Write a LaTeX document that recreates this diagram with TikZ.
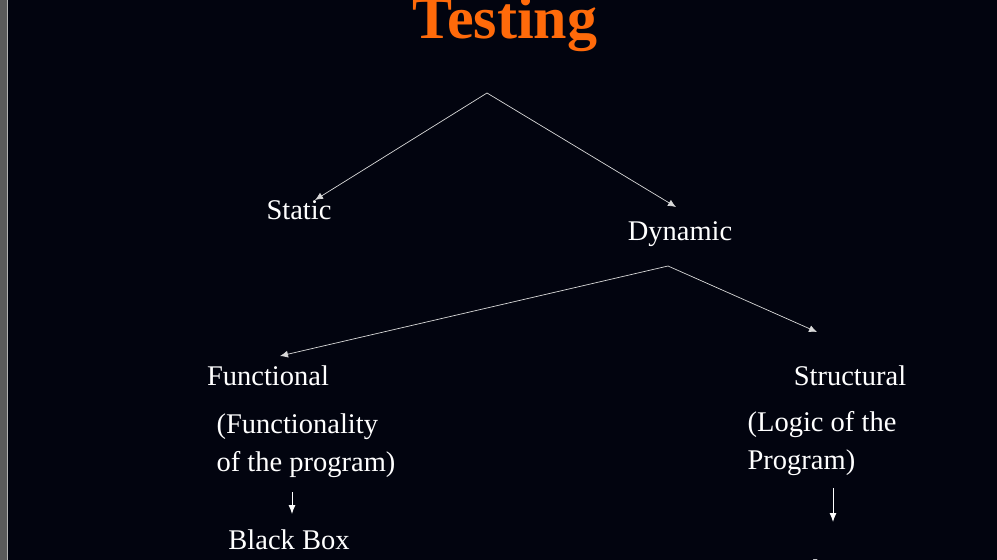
\documentclass[tikz,border=0pt]{standalone}
\usepackage{fontspec}
\setmainfont{Liberation Serif}
\usetikzlibrary{positioning}
\usetikzlibrary{arrows.meta}
\definecolor{slidebg}{HTML}{02040F}
\definecolor{titleorange}{HTML}{FF6A0A}
\definecolor{stripgray}{HTML}{5A5A5A}
\begin{document}
\begin{tikzpicture}[x=1pt,y=-1pt,
                        every node/.style={text=white, font=\fontsize{28.5}{38}\selectfont},
                        branch/.style={draw=white!85!black, line width=0.7pt, -{Latex[length=8pt,width=7pt]}},
                        stem/.style={draw=white, line width=0.9pt, -{Latex[length=9pt,width=7pt]}}]
            \fill[slidebg] (0,0) rectangle (997,560);
            \useasboundingbox (0,0) rectangle (997,560);
            \fill[stripgray] (0,0) rectangle (7,560);
            \draw[gray!60, line width=1pt] (7.5,0) -- (7.5,560);

            \node[text=titleorange, font=\bfseries\fontsize{60}{62}\selectfont] (testing) at (505,24) {Testing};
            \coordinate (top) at (487,93);
            \node (static) at (299,210) {Static};
            \node (dynamic) at (680,234) {Dynamic};
            \coordinate (dtop) at (668,266);
            \node (functional) at (268,376) {Functional};
            \node (structural) at (850,376) {Structural};
            \node[align=left] (fdesc) at (306,446) {(Functionality\\ of the program)};
            \node[align=left] (sdesc) at (822,444) {(Logic of the\\Program)};
            \node (blackbox) at (289,540) {Black Box};
            \node (whitebox) at (848,570) {White Box};

            \draw[branch] (top) -- (315,200);
            \draw[branch] (top) -- (676,207);
            \draw[branch] (dtop) -- (280,356);
            \draw[branch] (dtop) -- (817,332);
            \draw[stem] (292,492) -- (292,514);
            \draw[stem] (833,488) -- (833,522);
        \end{tikzpicture}
\end{document}
